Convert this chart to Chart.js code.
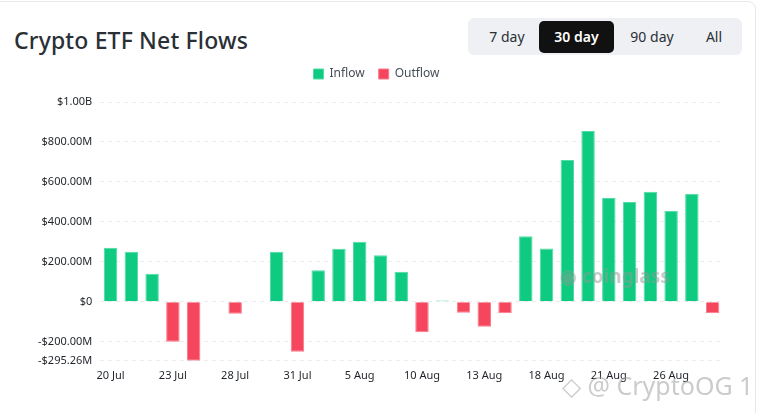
<!DOCTYPE html>
<html>
<head>
<meta charset="utf-8">
<script src="https://cdn.jsdelivr.net/npm/chart.js@4.4.1/dist/chart.umd.min.js"></script>
<style>
  html, body { margin: 0; padding: 0; background: #fff; }
  body { width: 761px; height: 413px; overflow: hidden; position: relative; font-family: "Noto Sans", sans-serif; }
  .card { position: absolute; left: -12px; top: 1px; width: 766px; height: 440px; border: 1px solid #e8e8e8; border-radius: 8px; }
  .title { position: absolute; left: 14px; top: 24px; font-size: 23px; font-weight: 500; color: #2b2f36; letter-spacing: 0.15px; }
  .tabs { position: absolute; left: 468px; top: 18px; width: 274px; height: 37px; background: #eef0f3; border-radius: 6px; }
  .tab { position: absolute; top: 3px; height: 32px; line-height: 32px; font-size: 14px; color: #2b2f36; text-align: center; }
  .tab.on { background: #111; color: #fff; border-radius: 5px; font-weight: 600; }
  .wrap { position: absolute; left: 0; top: 54px; width: 735px; height: 328px; }
  .wm1 { position: absolute; left: 560px; top: 263px; font-size: 19px; font-weight: 700; color: rgba(150,150,150,0.5); }
  .wm2 { position: absolute; left: 562px; top: 368px; font-size: 25px; color: rgba(160,160,160,0.55); }
</style>
</head>
<body>
<div class="card"></div>
<div class="title">Crypto ETF Net Flows</div>
<div class="tabs">
  <div class="tab" style="left:8px;width:62px">7 day</div>
  <div class="tab on" style="left:71px;width:75px">30 day</div>
  <div class="tab" style="left:149px;width:70px">90 day</div>
  <div class="tab" style="left:222px;width:48px">All</div>
</div>
<div class="wrap"><canvas id="flows"></canvas></div>
<div class="wm1">&#9673; coinglass</div>
<div class="wm2">&#9671; @ CryptoOG 1</div>
<script>
var days = ['20 Jul','21 Jul','22 Jul','23 Jul','24 Jul','25 Jul','28 Jul','29 Jul','30 Jul','31 Jul',
            '1 Aug','2 Aug','5 Aug','6 Aug','7 Aug','10 Aug','11 Aug','12 Aug','13 Aug','14 Aug',
            '15 Aug','18 Aug','19 Aug','20 Aug','21 Aug','22 Aug','23 Aug','26 Aug','27 Aug','28 Aug'];

// millions USD
var inflow  = [270, 250, 141, null, null, 3, null, null, 251, null,
               158, 265, 301, 233, 150, null, 6, null, null, null,
               328, 267, 710, 855, 520, 500, 551, 456, 541, null];
var outflow = [null, null, null, -200, -295.26, null, -60, null, null, -250,
               null, null, null, null, null, -152, null, -55, -125, -57,
               null, null, null, null, null, null, null, null, null, -57];

var yTicks = [-295.26, -200, 0, 200, 400, 600, 800, 1000];

function money(v) {
  if (v === 0) return '$0';
  var s = v < 0 ? '-$' : '$';
  var a = Math.abs(v);
  if (a >= 1000) return s + (a / 1000).toFixed(2) + 'B';
  return s + a.toFixed(2) + 'M';
}

// a bit more room under the legend
var legendGap = {
  id: 'legendGap',
  beforeInit: function (chart) {
    var fit = chart.legend.fit;
    chart.legend.fit = function () {
      fit.bind(chart.legend)();
      this.height += 12;
    };
  }
};

var ctx = document.getElementById('flows');
new Chart(ctx, {
  type: 'bar',
  data: {
    labels: days,
    datasets: [{
      label: 'Inflow',
      data: inflow,
      backgroundColor: '#0ECB81',
      borderColor: '#4fdca6',
      borderWidth: 1
    }, {
      label: 'Outflow',
      data: outflow,
      backgroundColor: '#F6465D',
      borderColor: '#f87a8a',
      borderWidth: 1
    }]
  },
  options: {
    responsive: true,
    maintainAspectRatio: false,
    animation: false,
    layout: { padding: { left: 30, right: 12, top: 0, bottom: 0 } },
    datasets: { bar: { barPercentage: 0.9, categoryPercentage: 0.72 } },
    scales: {
      x: {
        stacked: true,
        grid: { display: false },
        border: { display: false },
        ticks: {
          autoSkip: false,
          maxRotation: 0,
          color: '#1e2329',
          font: { family: 'Noto Sans', size: 11 },
          padding: 0,
          callback: function (v, i) { return i % 3 === 0 ? days[i] : ''; }
        }
      },
      y: {
        stacked: true,
        min: -295.26,
        max: 1000,
        afterBuildTicks: function (axis) {
          axis.ticks = yTicks.map(function (v) { return { value: v }; });
        },
        grid: { color: '#ececec', drawTicks: false },
        border: { display: false, dash: [4, 4] },
        ticks: {
          color: '#1e2329',
          font: { family: 'Noto Sans', size: 11 },
          padding: 8,
          callback: function (v) { return money(v); }
        }
      }
    },
    plugins: {
      legend: {
        position: 'top',
        labels: {
          boxWidth: 10,
          boxHeight: 10,
          padding: 14,
          color: '#474d57',
          font: { family: 'Noto Sans', size: 12 }
        }
      },
      tooltip: { enabled: false }
    }
  },
  plugins: [legendGap]
});
</script>
</body>
</html>
